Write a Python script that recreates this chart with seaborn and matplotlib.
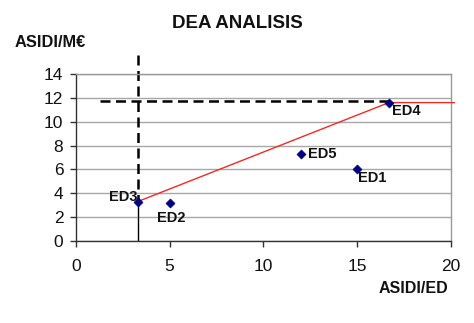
import matplotlib
matplotlib.use("Agg")
import matplotlib.pyplot as plt
import seaborn as sns
import pandas as pd

# Decision units and their two ratios
units = ["ED1", "ED2", "ED3", "ED4", "ED5"]
asidi_ed = [15.0, 5.0, 3.3, 16.7, 12.0]
asidi_me = [6.0, 3.2, 3.3, 11.6, 7.3]

# Efficient frontier (ED3 -> ED4 -> horizontal extension)
frontier_x = [3.3, 16.7, 20.2]
frontier_y = [3.3, 11.6, 11.6]

# Reference guides
hguide_x = [1.3, 16.7]
hguide_y = [11.7, 11.7]
vguide_x = [3.3, 3.3]
vguide_dash_y = [15.6, 3.3]
vguide_solid_y = [3.3, 0.0]

sns.set_theme(style="white")
plt.rcParams["font.family"] = ["Liberation Sans", "DejaVu Sans"]

df = pd.DataFrame({"unit": units, "x": asidi_ed, "y": asidi_me})
fr = pd.DataFrame({"x": frontier_x, "y": frontier_y})

fig = plt.figure(figsize=(4.74, 3.23), dpi=100)
ax = fig.add_axes([0.160, 0.254, 0.791, 0.517])

ax.set_xlim(0, 20)
ax.set_ylim(0, 14)
ax.set_xticks([0, 5, 10, 15, 20])
ax.set_yticks(range(0, 15, 2))
ax.yaxis.grid(True, color="#a8a8a8", linewidth=1.0)
ax.set_axisbelow(True)

for side in ["top", "right"]:
    ax.spines[side].set_color("#999999")
for side in ["left", "bottom"]:
    ax.spines[side].set_color("#333333")
for s in ax.spines.values():
    s.set_linewidth(1.0)

ax.tick_params(axis="both", direction="out", length=4, width=1, color="#333333",
               labelsize=12.5, labelcolor="#111111", left=True, bottom=True)
ax.tick_params(axis="x", pad=9)
ax.tick_params(axis="y", pad=5)

# Dashed guides
ax.plot(hguide_x, hguide_y, color="black", linestyle=(0, (4, 2.2)), linewidth=1.8,
        clip_on=False, zorder=2)
ax.plot(vguide_x, vguide_dash_y, color="black", linestyle=(0, (4, 2.2)), linewidth=1.8,
        clip_on=False, zorder=2)
ax.plot(vguide_x, vguide_solid_y, color="black", linewidth=1.0, zorder=2)

# Frontier
sns.lineplot(data=fr, x="x", y="y", sort=False, color="#ee2a2a", linewidth=1.0,
             ax=ax, clip_on=False, zorder=3)

# Units
sns.scatterplot(data=df, x="x", y="y", marker="D", s=22, color="#000080",
                edgecolor="#000080", ax=ax, zorder=4, clip_on=False)

offsets = {
    "ED1": (1, -1, "left", "top"),
    "ED2": (1, -6, "center", "top"),
    "ED3": (0, 3, "right", "center"),
    "ED4": (2, -1, "left", "top"),
    "ED5": (5, 0, "left", "center"),
}
for u, xv, yv in zip(units, asidi_ed, asidi_me):
    dx, dy, ha, va = offsets[u]
    ax.annotate(u, (xv, yv), xytext=(dx, dy), textcoords="offset points",
                ha=ha, va=va, fontsize=10.5, fontweight="bold", color="#111111")

ax.set_xlabel("")
ax.set_ylabel("")

fig.text(0.50, 0.928, "DEA ANALISIS", ha="center", va="center",
         fontsize=13.5, fontweight="bold", color="#111111")
fig.text(0.030, 0.868, "ASIDI/M€", ha="left", va="center",
         fontsize=11.8, fontweight="bold", color="#111111")
fig.text(0.946, 0.106, "ASIDI/ED", ha="right", va="center",
         fontsize=11.5, fontweight="bold", color="#111111")

fig.savefig("out.png", dpi=100, facecolor="white")
